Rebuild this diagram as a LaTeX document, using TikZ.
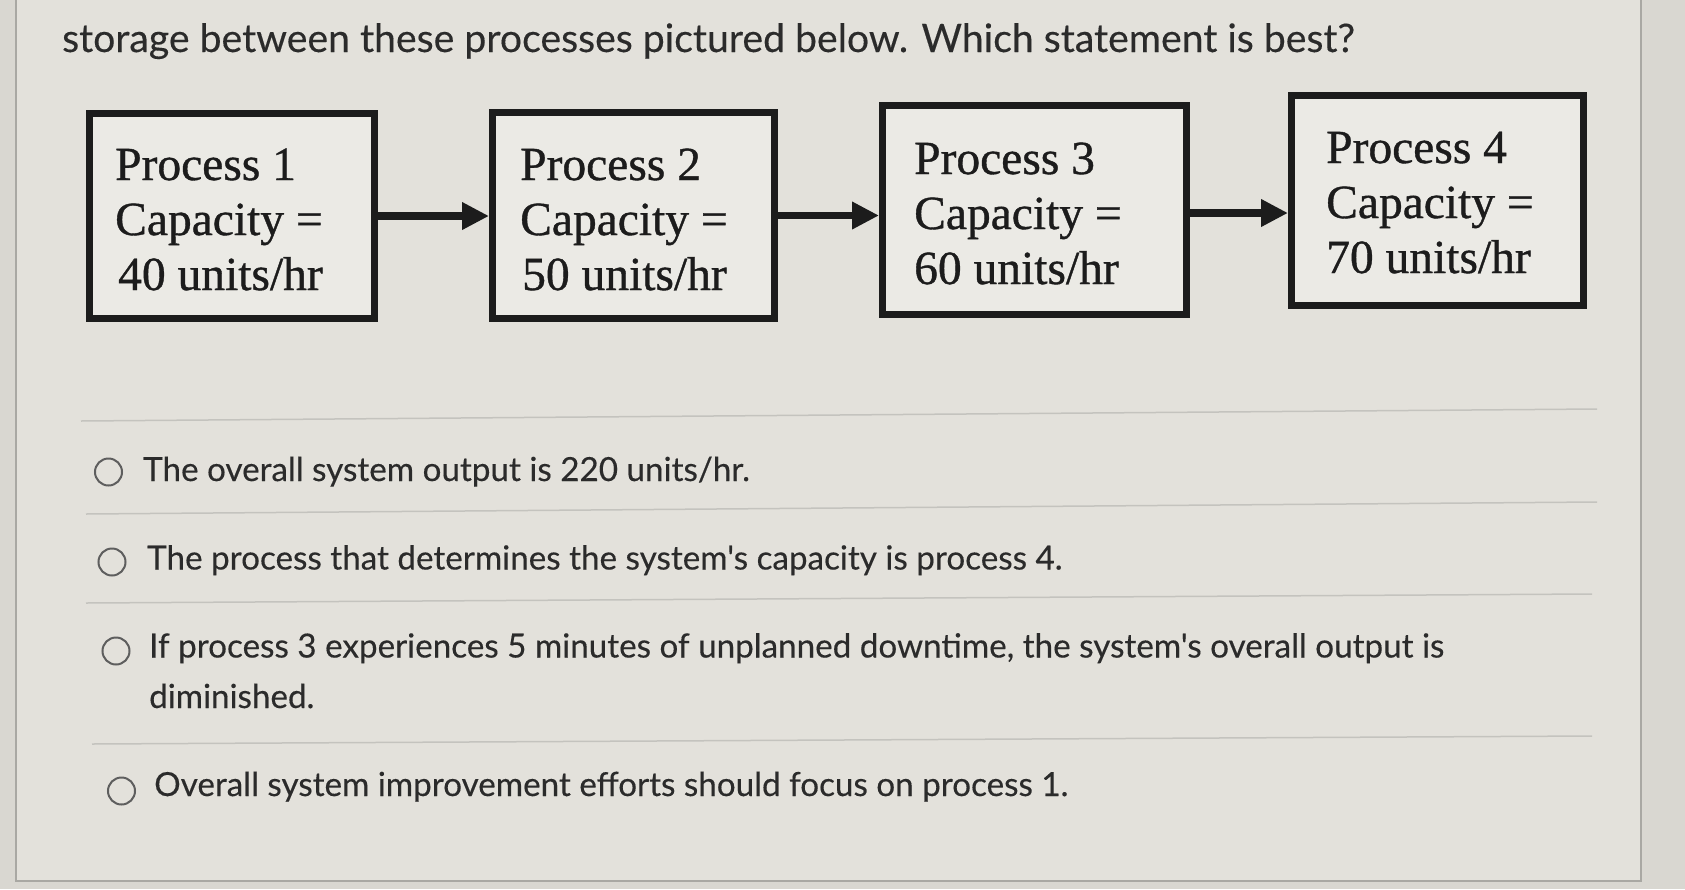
\documentclass[tikz,border=0pt]{standalone}
\usepackage{fontspec}
\setmainfont{Liberation Serif}
\newfontfamily\boxfont[FakeBold=0.8]{Liberation Serif}
\newfontfamily\latofont[FakeBold=0.3]{Lato}
\usetikzlibrary{arrows.meta}
\definecolor{bg}{HTML}{E3E1DB}
\definecolor{bgout}{HTML}{D9D7D1}
\definecolor{boxfill}{HTML}{EBEAE5}
\definecolor{ink}{HTML}{1C1C1C}
\definecolor{qink}{HTML}{2B2B2B}
\definecolor{sepcol}{HTML}{C4C3BE}
\definecolor{edgecol}{HTML}{A9A8A3}
\definecolor{radiocol}{HTML}{5E5E5E}
\begin{document}
\begin{tikzpicture}[x=1pt,y=-1pt,
  procbox/.style={draw=ink, fill=boxfill, line width=7pt, rectangle, inner sep=0pt, outer sep=3.5pt},
  boxtext/.style={anchor=base west, inner sep=0pt, text=ink, font=\boxfont\fontsize{47.5}{55}\selectfont},
  flow/.style={draw=ink, line width=7.5pt, -{Triangle[length=27pt,width=26pt]}},
  optext/.style={anchor=base west, inner sep=0pt, text=qink, font=\latofont\fontsize{33.2}{40}\selectfont},
  radio/.style={circle, draw=radiocol, line width=2pt, minimum size=27pt, inner sep=0pt},
  sep/.style={draw=sepcol, line width=1.5pt}]
\useasboundingbox (0,0) rectangle (1685,889);
\fill[bgout] (0,0) rectangle (1685,889);
\fill[bg] (16,0) rectangle (1641,881);
\draw[edgecol, line width=1.5pt] (16,0) -- (16,881) -- (1641,881) -- (1641,0);

% question line
\node[anchor=base west, inner sep=0pt, text=qink, font=\latofont\fontsize{39.2}{46}\selectfont] (q) at (62,52) {storage between these processes pictured below. Which statement is best?};

% process boxes
\node[procbox, minimum width=285pt, minimum height=205pt] (b1) at (232,216) {};
\node[procbox, minimum width=282pt, minimum height=206pt] (b2) at (633.5,215.5) {};
\node[procbox, minimum width=304pt, minimum height=209pt] (b3) at (1034.5,210) {};
\node[procbox, minimum width=292pt, minimum height=210pt] (b4) at (1437.5,200.5) {};

\node[boxtext] (t1a) at (115,180) {Process 1};
\node[boxtext] (t1b) at (115,235) {Capacity =};
\node[boxtext] (t1c) at (118,290) {40 units/hr};
\node[boxtext] (t2a) at (520,180) {Process 2};
\node[boxtext] (t2b) at (520,235) {Capacity =};
\node[boxtext] (t2c) at (522,290) {50 units/hr};
\node[boxtext] (t3a) at (914,174) {Process 3};
\node[boxtext] (t3b) at (914,229) {Capacity =};
\node[boxtext] (t3c) at (914,284) {60 units/hr};
\node[boxtext] (t4a) at (1326,163) {Process 4};
\node[boxtext] (t4b) at (1326,218) {Capacity =};
\node[boxtext] (t4c) at (1326,273) {70 units/hr};

\coordinate (a3) at ([yshift=-3pt]b3.east);
\draw[flow] (b1.east) -- (b2.west |- b1.east);
\draw[flow] (b2.east) -- (b3.west |- b2.east);
\draw[flow] (a3) -- (b4.west |- a3);

% separators
\draw[sep] (81,421) -- (1597,409);
\draw[sep] (86,514) -- (1597,502);
\draw[sep] (86,603) -- (1592,594);
\draw[sep] (92,744) -- (1592,736);

% options
\node[radio] (r1) at (108.5,472) {};
\node[optext] (o1) at (143,481) {The overall system output is 220 units/hr.};
\node[radio] (r2) at (112,562) {};
\node[optext] (o2) at (147,569.5) {The process that determines the system's capacity is process 4.};
\node[radio] (r3) at (116,651) {};
\node[optext] (o3) at (149,657.5) {If process 3 experiences 5 minutes of unplanned downtime, the system's overall output is};
\node[optext] (o3b) at (149,708) {diminished.};
\node[radio] (r4) at (121.5,791) {};
\node[optext] (o4) at (154,796) {Overall system improvement efforts should focus on process 1.};
\end{tikzpicture}
\end{document}
